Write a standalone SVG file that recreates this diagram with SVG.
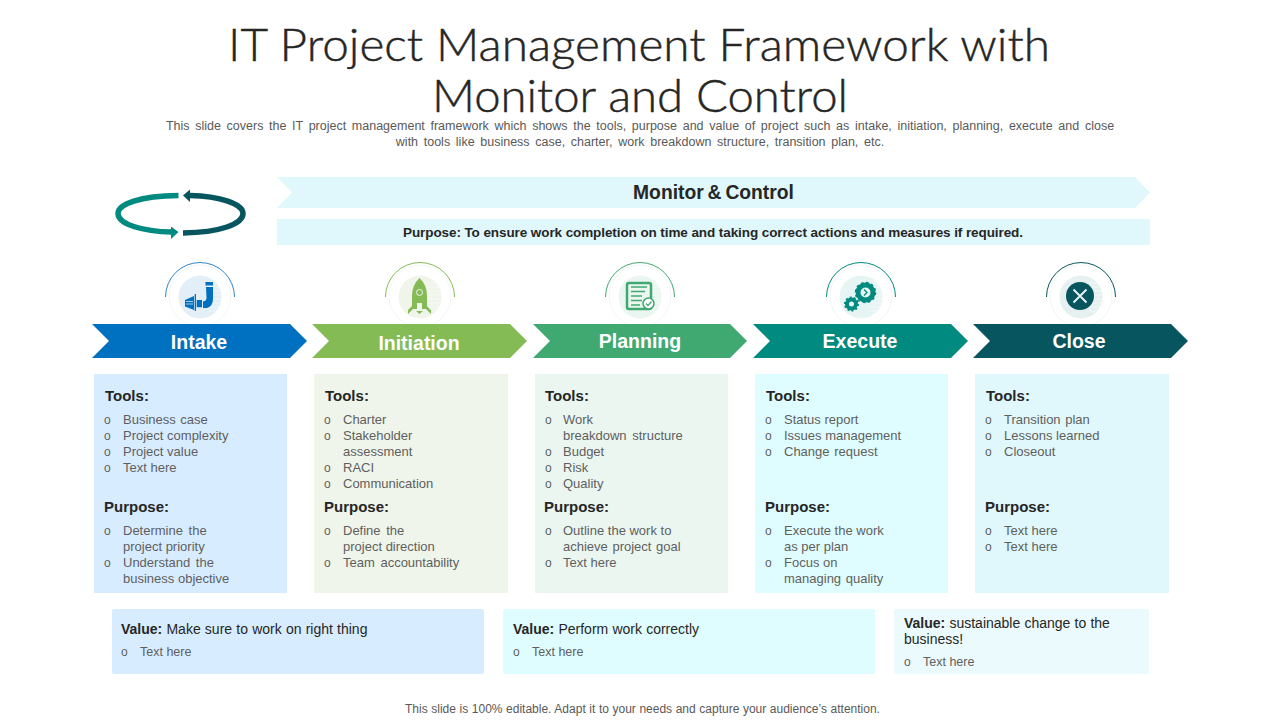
<svg xmlns="http://www.w3.org/2000/svg" width="1280" height="720" viewBox="0 0 1280 720">
<style>
text{font-family:"Liberation Sans",Arial,sans-serif}
.title{font-family:Lato,"Liberation Sans",sans-serif;font-weight:300;font-size:46px;fill:#262626;stroke:#262626;stroke-width:.45;text-anchor:middle}
.sub{font-size:12.500px;fill:#595959;text-anchor:middle;word-spacing:2.200px}
.step{font-size:19.500px;font-weight:bold;fill:#fff;text-anchor:middle}
.h{font-size:15px;font-weight:bold;fill:#262626}
.li{font-size:13px;fill:#5f5f5f}
.li2{font-size:12.500px;fill:#5f5f5f}
.b{font-size:12px;fill:#5f5f5f}
.v{font-size:14px;fill:#262626;word-spacing:.3px}
.halo{fill:#fff;stroke:#f3f5f6;stroke-width:1}
.arc{fill:none;stroke-width:1}
.stripe{stroke:#fff;stroke-width:1}
</style>
<defs>
<g id="stripes"><path class="stripe" d="M8 -14H21M8 -10H21M8 -6H21M8 -2H21M8 2H21M8 6H21M8 10H21M8 14H21" opacity=".55"/></g>
</defs>
<rect width="1280" height="720" fill="#fff"/>
<g id="header">
<text class="title" x="639" y="61" textLength="822" lengthAdjust="spacingAndGlyphs">IT Project Management Framework with</text>
<text class="title" x="640" y="112" textLength="416" lengthAdjust="spacingAndGlyphs">Monitor and Control</text>
<text class="sub" x="640" y="130">This slide covers the IT project management framework which shows the tools, purpose and value of project such as intake, initiation, planning, execute and close</text>
<text class="sub" x="640" y="146" word-spacing="2.700">with tools like business case, charter, work breakdown structure, transition plan, etc.</text>
</g>
<g id="monitor-cycle">
<path d="M178.500 195.500C140 196 118 204 118 213.500C118 224 142 231.500 172 232" fill="none" stroke="#008a80" stroke-width="5.500"/>
<path d="M171 226.500L178.500 232L171 239Z" fill="#008a80"/>
<path d="M190 195.500C220 196 243 204 243 213.500C243 224 220 232.500 183 233" fill="none" stroke="#07555f" stroke-width="5.500"/>
<path d="M190 189.500L183 195.500L190 202Z" fill="#07555f"/>
</g>
<g id="monitor-banner">
<path d="M277 177H1135L1150 192.500L1135 208H277L292 192.500Z" fill="#e0f8fb"/>
<text x="713.500" y="199" font-size="19.300" font-weight="bold" fill="#262626" text-anchor="middle" word-spacing="-1.500">Monitor &amp; Control</text>
</g>
<g id="purpose-banner">
<rect x="277" y="219" width="873" height="26" fill="#e0f8fb"/>
<text x="713" y="237" font-size="13.500" font-weight="bold" fill="#262626" text-anchor="middle" textLength="620">Purpose: To ensure work completion on time and taking correct actions and measures if required.</text>
</g>

<g id="intake">
<circle class="halo" cx="200" cy="296" r="31"/>
<path class="arc" stroke="#2f86c8" d="M165.500 297A34.500 34.500 0 0 1 234.500 297"/>
<circle cx="200" cy="297" r="21.500" fill="#e3eff8"/>
<use href="#stripes" x="200" y="297"/>
<path fill="#0070c0" d="M205.500 282H213V285.500H205.500ZM206 287H213V299Q213 306 207 308L203 308V301.500Q206.500 301 206.500 298ZM196.700 300H202V307.300H196.700ZM194.700 294H196V311H194.700ZM194 296V310L185 306.500V300Z"/>
<path d="M186 301.500H193M186 304H193" stroke="#e3eff8" stroke-width=".7" fill="none"/>
<path d="M92 324H290L307 341L290 358H92L109 341Z" fill="#0070c0"/>
<text class="step" x="199" y="349">Intake</text>
<rect x="94" y="374" width="193" height="219" fill="#d7ecff"/>
<text class="h" x="105" y="401">Tools:</text>
<text class="b" x="104" y="424">o</text><text class="li" x="123" y="424" word-spacing="1">Business case</text>
<text class="b" x="104" y="440">o</text><text class="li" x="123" y="440">Project complexity</text>
<text class="b" x="104" y="456">o</text><text class="li" x="123" y="456">Project value</text>
<text class="b" x="104" y="472">o</text><text class="li" x="123" y="472">Text here</text>
<text class="h" x="104" y="512">Purpose:</text>
<text class="b" x="104" y="535">o</text><text class="li" x="123" y="535" word-spacing="2">Determine the</text>
<text class="li" x="123" y="551">project priority</text>
<text class="b" x="104" y="567">o</text><text class="li" x="123" y="567" word-spacing="2">Understand the</text>
<text class="li" x="123" y="583">business objective</text>
</g>

<g id="initiation">
<circle class="halo" cx="420" cy="296" r="31"/>
<path class="arc" stroke="#84bb54" d="M385.500 297A34.500 34.500 0 0 1 454.500 297"/>
<circle cx="420" cy="297" r="21.500" fill="#eff5ea"/>
<use href="#stripes" x="420" y="297"/>
<path fill="#84bb54" d="M419.500 278Q427 285 427 296L427 306L430.500 310L431 310L431 314L426 309L422 309L422 303H417L417 309L413 309L408 314L408 310L412 306L412 296Q412 285 419.500 278ZM416 311H423L419.500 314Z"/>
<circle cx="419.500" cy="292.500" r="3" fill="none" stroke="#eff5ea" stroke-width="1"/>
<path d="M312 324H510L527 341L510 358H312L329 341Z" fill="#84bb54"/>
<text class="step" x="419" y="350">Initiation</text>
<rect x="314" y="374" width="194" height="219" fill="#eff5ea"/>
<text class="h" x="325" y="401">Tools:</text>
<text class="b" x="324" y="424">o</text><text class="li" x="343" y="424">Charter</text>
<text class="b" x="324" y="440">o</text><text class="li" x="343" y="440">Stakeholder</text>
<text class="li" x="343" y="456">assessment</text>
<text class="b" x="324" y="472">o</text><text class="li" x="343" y="472">RACI</text>
<text class="b" x="324" y="488">o</text><text class="li" x="343" y="488">Communication</text>
<text class="h" x="324" y="512">Purpose:</text>
<text class="b" x="324" y="535">o</text><text class="li" x="343" y="535" word-spacing="2">Define the</text>
<text class="li" x="343" y="551">project direction</text>
<text class="b" x="324" y="567">o</text><text class="li" x="343" y="567" word-spacing="2">Team accountability</text>
</g>

<g id="planning">
<circle class="halo" cx="640" cy="296" r="31"/>
<path class="arc" stroke="#40a972" d="M605.500 297A34.500 34.500 0 0 1 674.500 297"/>
<circle cx="640" cy="297" r="21.500" fill="#ebf6f1"/>
<use href="#stripes" x="640" y="297"/>
<rect x="627" y="283" width="24" height="26" rx="2" fill="none" stroke="#40a972" stroke-width="2.500"/>
<path d="M631 287H647M631 291.500H645M631 296H642M631 300.500H642M631 305H640" stroke="#40a972" stroke-width="1.500" fill="none"/>
<circle cx="648.500" cy="303.500" r="5.500" fill="#fff" stroke="#40a972" stroke-width="1.500"/>
<path d="M646 303.500L648 305.500L651.500 301.500" fill="none" stroke="#40a972" stroke-width="1.200"/>
<path d="M533 324H730L747 341L730 358H533L550 341Z" fill="#40a972"/>
<text class="step" x="640" y="348">Planning</text>
<rect x="535" y="374" width="193" height="219" fill="#ebf6f1"/>
<text class="h" x="545" y="401">Tools:</text>
<text class="b" x="545" y="424">o</text><text class="li" x="563" y="424">Work</text>
<text class="li" x="563" y="440" word-spacing="2">breakdown structure</text>
<text class="b" x="545" y="456">o</text><text class="li" x="563" y="456">Budget</text>
<text class="b" x="545" y="472">o</text><text class="li" x="563" y="472">Risk</text>
<text class="b" x="545" y="488">o</text><text class="li" x="563" y="488">Quality</text>
<text class="h" x="544" y="512">Purpose:</text>
<text class="b" x="545" y="535">o</text><text class="li" x="563" y="535">Outline the work to</text>
<text class="li" x="563" y="551" word-spacing="1">achieve project goal</text>
<text class="b" x="545" y="567">o</text><text class="li" x="563" y="567">Text here</text>
</g>

<g id="execute">
<circle class="halo" cx="861" cy="296" r="31"/>
<path class="arc" stroke="#008a80" d="M826.500 297A34.500 34.500 0 0 1 895.500 297"/>
<circle cx="861" cy="297" r="21.500" fill="#e6f4f3"/>
<use href="#stripes" x="861" y="297"/>
<circle cx="865.500" cy="292.500" r="7.500" fill="none" stroke="#008a80" stroke-width="5"/>
<circle cx="865.500" cy="292.500" r="9.500" fill="none" stroke="#008a80" stroke-width="2.500" stroke-dasharray="2.500 2.500"/>
<path d="M864 289.500L867 292.500L864 295.500" fill="none" stroke="#008a80" stroke-width="1.300"/>
<circle cx="851.500" cy="304" r="4.500" fill="none" stroke="#008a80" stroke-width="4"/>
<circle cx="851.500" cy="304" r="6.500" fill="none" stroke="#008a80" stroke-width="2" stroke-dasharray="2 2"/>
<path d="M753 324H951L968 341L951 358H753L770 341Z" fill="#008a80"/>
<text class="step" x="860" y="348">Execute</text>
<rect x="755" y="374" width="193" height="219" fill="#dffdfe"/>
<text class="h" x="766" y="401">Tools:</text>
<text class="b" x="765" y="424">o</text><text class="li" x="784" y="424">Status report</text>
<text class="b" x="765" y="440">o</text><text class="li" x="784" y="440">Issues management</text>
<text class="b" x="765" y="456">o</text><text class="li" x="784" y="456" word-spacing="1">Change request</text>
<text class="h" x="765" y="512">Purpose:</text>
<text class="b" x="765" y="535">o</text><text class="li" x="784" y="535">Execute the work</text>
<text class="li" x="784" y="551">as per plan</text>
<text class="b" x="765" y="567">o</text><text class="li" x="784" y="567">Focus on</text>
<text class="li" x="784" y="583" word-spacing="1">managing quality</text>
</g>

<g id="close">
<circle class="halo" cx="1081" cy="296" r="31"/>
<path class="arc" stroke="#07555f" d="M1046.500 297A34.500 34.500 0 0 1 1115.500 297"/>
<circle cx="1081" cy="297" r="21.500" fill="#e6f0f1"/>
<use href="#stripes" x="1081" y="297"/>
<circle cx="1080" cy="296" r="14" fill="#07555f"/>
<path d="M1073.500 289.500L1086.500 302.500M1086.500 289.500L1073.500 302.500" stroke="#e6f0f1" stroke-width="2" fill="none"/>
<path d="M973 324H1171L1188 341L1171 358H973L990 341Z" fill="#07555f"/>
<text class="step" x="1079" y="348">Close</text>
<rect x="975" y="374" width="194" height="219" fill="#e0f8fb"/>
<text class="h" x="986" y="401">Tools:</text>
<text class="b" x="985" y="424">o</text><text class="li" x="1004" y="424" word-spacing="1">Transition plan</text>
<text class="b" x="985" y="440">o</text><text class="li" x="1004" y="440">Lessons learned</text>
<text class="b" x="985" y="456">o</text><text class="li" x="1004" y="456">Closeout</text>
<text class="h" x="985" y="512">Purpose:</text>
<text class="b" x="985" y="535">o</text><text class="li" x="1004" y="535">Text here</text>
<text class="b" x="985" y="551">o</text><text class="li" x="1004" y="551">Text here</text>
</g>

<g id="value-1">
<rect x="112" y="609" width="372" height="65" rx="2" fill="#d7ecff"/>
<text class="v" x="121" y="634"><tspan font-weight="bold">Value:</tspan> Make sure to work on right thing</text>
<text class="b" x="121" y="656">o</text><text class="li2" x="140" y="656">Text here</text>
</g>
<g id="value-2">
<rect x="503" y="609" width="372" height="65" rx="2" fill="#dffdfe"/>
<text class="v" x="513" y="634"><tspan font-weight="bold">Value:</tspan> Perform work correctly</text>
<text class="b" x="513" y="656">o</text><text class="li2" x="532" y="656">Text here</text>
</g>
<g id="value-3">
<rect x="894" y="609" width="255" height="65" rx="2" fill="#ebfafd"/>
<text class="v" x="904" y="628"><tspan font-weight="bold">Value:</tspan> sustainable change to the</text>
<text class="v" x="904" y="644">business!</text>
<text class="b" x="904" y="666">o</text><text class="li2" x="923" y="666">Text here</text>
</g>
<text id="footer" x="642.500" y="713" font-size="12" fill="#595959" text-anchor="middle" word-spacing=".25">This slide is 100% editable. Adapt it to your needs and capture your audience’s attention.</text>
</svg>
